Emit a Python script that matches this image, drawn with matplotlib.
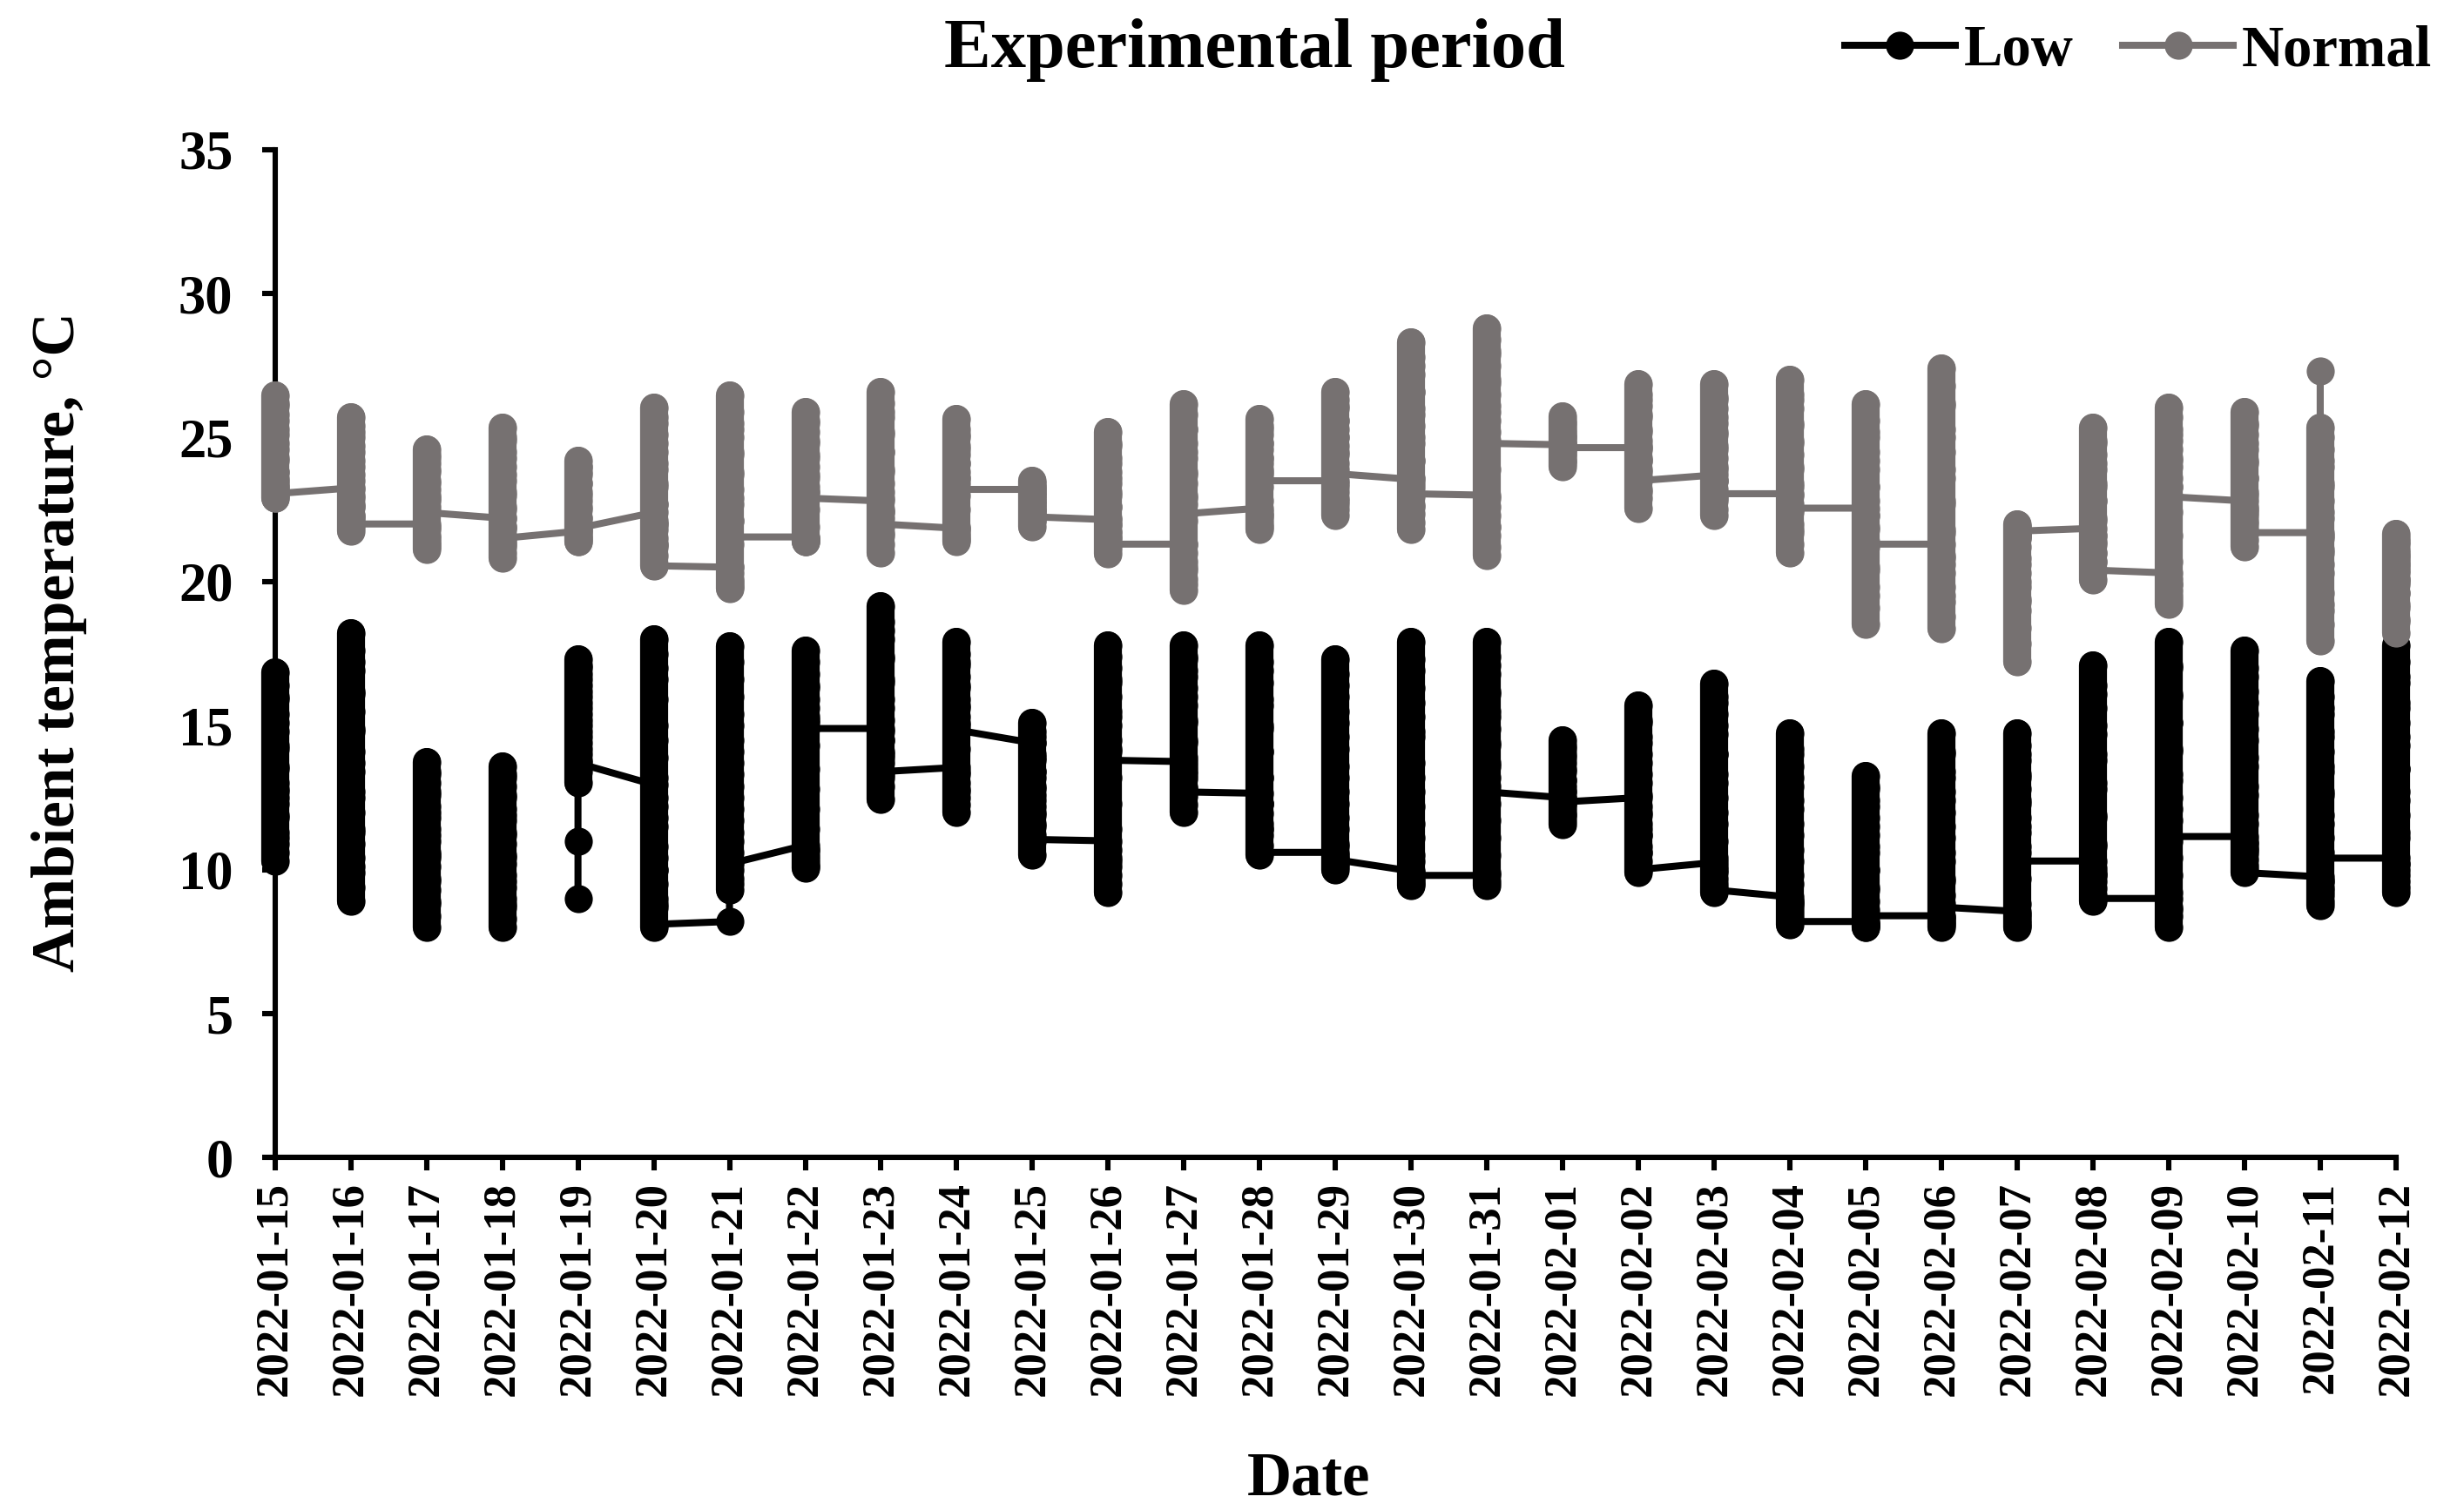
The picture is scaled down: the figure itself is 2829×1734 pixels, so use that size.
import numpy as np
import matplotlib.pyplot as plt

nan = np.nan

dates = ['2022-01-15', '2022-01-16', '2022-01-17', '2022-01-18', '2022-01-19',
         '2022-01-20', '2022-01-21', '2022-01-22', '2022-01-23', '2022-01-24',
         '2022-01-25', '2022-01-26', '2022-01-27', '2022-01-28', '2022-01-29',
         '2022-01-30', '2022-01-31', '2022-02-01', '2022-02-02', '2022-02-03',
         '2022-02-04', '2022-02-05', '2022-02-06', '2022-02-07', '2022-02-08',
         '2022-02-09', '2022-02-10', '2022-02-11', '2022-02-12']

# hourly ambient temperature readings (deg C), nan = missing reading
# Low temperature room
low_0115 = [12.8, 12.3, 11.8, 11.3, 10.9, 10.6, 10.3, 11.1, 11.9, 12.7, 13.5, 14.3, 15.1, 16.0, 16.85, 16.4, 15.9, 15.4, 14.8, 14.2, 13.6, 13.0, 12.5, nan]
low_0116 = [12.0, 11.4, 10.9, 10.4, 9.9, 9.4, 8.9, 10.1, 11.3, 12.5, 13.7, 14.9, 16.1, 17.2, 18.2, 17.6, 16.9, 16.2, 15.5, 14.8, 14.1, 13.4, 12.7, nan]
low_0117 = [10.5, 10.1, 9.7, 9.3, 8.9, 8.4, 8.0, 8.8, 9.6, 10.4, 11.2, 12.0, 12.7, 13.3, 13.75, 13.4, 13.0, 12.6, 12.2, 11.8, 11.4, 11.0, 10.6, nan]
low_0118 = [10.2, 9.8, 9.4, 9.0, 8.7, 8.3, 8.0, 8.8, 9.6, 10.4, 11.2, 11.9, 12.6, 13.2, 13.6, 13.3, 12.9, 12.5, 12.1, 11.7, 11.3, 10.9, 10.5, nan]
low_0119 = [9.0, 11.0, 13.0, 13.4, 13.8, 14.2, 14.6, 15.0, 15.4, 15.8, 16.2, 16.6, 17.0, 17.3, 17.1, 16.8, 16.4, 16.0, 15.6, 15.2, 14.8, 14.4, 14.0, 13.7]
low_0120 = [12.95, 12.2, 11.5, 10.8, 10.0, 9.0, 8.0, 8.8, 10.0, 11.8, 13.2, 15.0, 15.9, 17.0, 18.0, 17.5, 16.6, 14.5, 13.9, 12.5, 10.4, 9.5, 8.7, 8.1]
low_0121 = [8.2, 9.3, 9.5, 9.7, 10.0, 10.3, 10.6, 11.3, 12.1, 12.9, 13.7, 14.5, 15.4, 16.6, 17.75, 17.2, 16.0, 15.0, 14.1, 13.3, 12.5, 11.7, 11.0, 10.2]
low_0122 = [10.85, 10.7, 10.5, 10.35, 10.2, 10.1, 10.05, 10.7, 11.4, 12.1, 12.8, 13.5, 14.3, 15.2, 16.4, 17.6, 17.2, 16.8, 16.3, 15.9, 15.6, 15.3, 15.1, 14.9]
low_0123 = [14.9, 14.5, 14.1, 13.7, 13.3, 12.9, 12.45, 13.2, 14.0, 14.8, 15.6, 16.5, 17.4, 18.3, 19.15, 18.6, 18.0, 17.3, 16.6, 15.9, 15.2, 14.5, 13.9, 13.4]
low_0124 = [13.55, 13.3, 13.0, 12.8, 12.5, 12.25, 12.0, 12.7, 13.4, 14.2, 15.0, 15.7, 16.4, 17.2, 17.9, 17.5, 17.1, 16.7, 16.3, 15.9, 15.6, 15.3, 15.1, 14.85]
low_0125 = [14.4, 13.8, 13.2, 12.6, 12.0, 11.2, 10.5, 11.0, 11.6, 12.2, 12.8, 13.4, 14.0, 14.6, 15.1, 14.8, 14.4, 13.9, 13.4, 12.9, 12.4, 11.9, 11.5, 11.05]
low_0126 = [11.0, 10.7, 10.4, 10.1, 9.8, 9.5, 9.2, 10.3, 11.4, 12.3, 13.2, 14.2, 15.3, 16.6, 17.8, 17.4, 17.0, 16.5, 16.0, 15.5, 15.0, 14.5, 14.1, 13.8]
low_0127 = [13.75, 13.45, 13.15, 12.85, 12.55, 12.25, 12.0, 12.8, 13.6, 14.4, 15.2, 16.0, 16.7, 17.3, 17.8, 17.4, 16.9, 16.3, 15.7, 15.1, 14.5, 13.9, 13.3, 12.7]
low_0128 = [12.65, 12.3, 11.95, 11.6, 11.2, 10.85, 10.5, 11.4, 12.3, 13.2, 14.1, 15.0, 15.9, 16.9, 17.8, 17.2, 16.5, 15.7, 14.9, 14.1, 13.2, 12.3, 11.4, 10.6]
low_0129 = [10.6, 10.5, 10.4, 10.3, 10.2, 10.1, 10.0, 10.9, 11.8, 12.7, 13.6, 14.6, 15.5, 16.4, 17.3, 16.8, 16.0, 15.1, 14.2, 13.2, 12.3, 11.4, 10.8, 10.35]
low_0130 = [9.95, 9.9, 9.8, 9.7, 9.6, 9.5, 9.45, 10.5, 11.6, 12.7, 13.7, 14.8, 15.8, 16.9, 17.9, 17.3, 16.3, 15.3, 14.6, 13.2, 12.2, 11.1, 10.3, 9.8]
low_0131 = [9.8, 9.6, 9.45, 9.9, 10.5, 11.1, 11.7, 12.3, 12.9, 13.6, 14.4, 15.3, 16.2, 17.1, 17.9, 17.4, 16.8, 16.1, 15.5, 14.9, 14.3, 13.7, 13.2, 12.7]
low_0201 = [12.5, 12.35, 12.2, 12.05, 11.9, 11.7, 11.55, 11.9, 12.3, 12.7, 13.1, 13.5, 13.9, 14.2, 14.5, 14.3, 14.0, 13.7, 13.4, 13.1, 12.9, 12.7, 12.5, 12.35]
low_0202 = [12.5, 12.0, 11.6, 11.2, 10.8, 10.3, 9.9, 10.6, 11.4, 12.2, 13.0, 13.7, 14.4, 15.1, 15.7, 15.2, 14.6, 14.0, 13.3, 12.6, 11.9, 11.2, 10.6, 10.0]
low_0203 = [10.25, 10.1, 9.9, 9.7, 9.5, 9.35, 9.2, 10.0, 11.0, 12.0, 13.0, 14.0, 15.0, 15.8, 16.45, 16.0, 15.4, 14.7, 14.0, 13.3, 12.5, 11.6, 10.4, 9.3]
low_0204 = [9.05, 8.9, 8.75, 8.6, 8.45, 8.3, 8.1, 8.9, 9.8, 10.7, 11.6, 12.4, 13.2, 14.0, 14.75, 14.2, 13.6, 12.9, 12.1, 11.2, 10.3, 9.5, 8.8, 8.2]
low_0205 = [8.2, 8.15, 8.1, 8.1, 8.05, 8.0, 8.0, 8.6, 9.3, 10.0, 10.8, 11.5, 12.2, 12.8, 13.25, 12.9, 12.4, 11.8, 11.2, 10.6, 10.0, 9.4, 8.9, 8.4]
low_0206 = [8.4, 8.35, 8.3, 8.2, 8.15, 8.1, 8.0, 8.8, 9.7, 10.6, 11.5, 12.4, 13.2, 14.0, 14.75, 14.1, 13.4, 12.7, 12.0, 11.1, 10.3, 9.6, 9.1, 8.7]
low_0207 = [8.55, 8.45, 8.35, 8.25, 8.15, 8.05, 8.0, 8.8, 9.7, 10.6, 11.5, 12.4, 13.2, 14.0, 14.75, 14.3, 13.8, 13.3, 12.8, 12.3, 11.8, 11.3, 10.8, 10.3]
low_0208 = [10.3, 10.05, 9.8, 9.6, 9.35, 9.1, 8.9, 9.9, 10.9, 11.9, 13.0, 14.0, 15.0, 16.1, 17.1, 16.4, 15.6, 14.7, 13.8, 12.8, 11.8, 10.8, 9.8, 9.0]
low_0209 = [9.0, 8.7, 8.4, 8.0, 8.6, 9.2, 9.8, 10.4, 11.0, 11.7, 12.5, 13.3, 14.2, 15.1, 16.0, 17.0, 17.9, 17.1, 16.1, 15.1, 14.1, 13.1, 12.1, 11.15]
low_0210 = [11.15, 10.95, 10.75, 10.55, 10.35, 10.15, 10.0, 10.9, 11.9, 12.9, 13.9, 14.9, 15.8, 16.7, 17.6, 17.0, 16.2, 15.4, 14.5, 13.6, 12.6, 11.6, 10.7, 9.9]
low_0211 = [9.75, 9.6, 9.4, 9.25, 9.1, 8.9, 8.75, 9.6, 10.6, 11.6, 12.6, 13.6, 14.6, 15.6, 16.55, 16.0, 15.4, 14.8, 14.1, 13.4, 12.7, 11.9, 11.1, 10.4]
low_0212 = [10.4, 10.2, 10.0, 9.8, 9.6, 9.4, 9.2, 10.2, 11.3, 12.4, 13.5, 14.6, 15.6, 16.7, 17.8, 17.2, 16.5, 15.8, 15.1, 14.3, 13.5, 12.7, 11.9, 11.1]

# Normal temperature room
normal_0115 = [23.6, 23.4, 23.2, 23.1, 23.0, 22.9, 22.9, 23.3, 23.8, 24.3, 24.8, 25.3, 25.8, 26.2, 26.45, 26.1, 25.6, 25.1, 24.6, 24.2, 23.8, 23.5, 23.3, 23.05]
normal_0116 = [23.25, 22.9, 22.6, 22.3, 22.1, 21.9, 21.75, 22.2, 22.7, 23.2, 23.7, 24.2, 24.7, 25.2, 25.7, 25.4, 25.0, 24.5, 24.0, 23.5, 23.0, 22.6, 22.3, 22.0]
normal_0117 = [22.0, 21.8, 21.6, 21.4, 21.3, 21.2, 21.1, 21.5, 21.9, 22.4, 22.9, 23.4, 23.9, 24.3, 24.6, 24.4, 24.1, 23.8, 23.5, 23.2, 23.0, 22.8, 22.6, 22.4]
normal_0118 = [22.2, 21.9, 21.6, 21.4, 21.2, 21.0, 20.8, 21.3, 21.9, 22.5, 23.1, 23.7, 24.3, 24.9, 25.35, 25.0, 24.5, 24.0, 23.5, 23.0, 22.6, 22.2, 21.8, 21.5]
normal_0119 = [21.75, 21.7, 21.6, 21.5, 21.5, 21.4, 21.4, 21.8, 22.2, 22.6, 23.0, 23.4, 23.8, 24.0, 24.2, 24.0, 23.7, 23.4, 23.1, 22.8, 22.5, 22.2, 22.0, 21.85]
normal_0120 = [22.4, 22.1, 21.8, 21.5, 21.2, 20.9, 20.6, 21.3, 22.0, 22.7, 23.4, 24.1, 24.8, 25.5, 26.05, 25.7, 25.1, 24.5, 23.9, 23.3, 22.7, 22.0, 21.3, 20.55]
normal_0121 = [20.5, 20.3, 20.1, 20.0, 19.9, 19.8, 19.75, 20.5, 21.3, 22.1, 22.9, 23.7, 24.5, 25.3, 25.9, 26.45, 25.5, 25.0, 24.4, 23.8, 23.2, 22.7, 22.1, 21.55]
normal_0122 = [21.55, 21.5, 21.5, 21.45, 21.4, 21.4, 21.4, 21.9, 22.5, 23.1, 23.7, 24.3, 24.9, 25.5, 25.9, 25.6, 25.2, 24.8, 24.4, 24.0, 23.6, 23.3, 23.1, 22.9]
normal_0123 = [22.8, 22.5, 22.2, 21.9, 21.6, 21.3, 21.0, 21.7, 22.4, 23.1, 23.8, 24.5, 25.2, 25.9, 26.6, 26.2, 25.7, 25.1, 24.5, 23.9, 23.4, 22.9, 22.4, 22.0]
normal_0124 = [21.85, 21.8, 21.7, 21.6, 21.5, 21.45, 21.4, 21.9, 22.5, 23.0, 23.6, 24.1, 24.6, 25.1, 25.65, 25.3, 25.0, 24.7, 24.4, 24.1, 23.8, 23.6, 23.4, 23.2]
normal_0125 = [23.2, 23.0, 22.8, 22.6, 22.4, 22.1, 21.9, 22.1, 22.3, 22.5, 22.7, 22.9, 23.1, 23.3, 23.5, 23.4, 23.3, 23.1, 23.0, 22.8, 22.7, 22.5, 22.4, 22.25]
normal_0126 = [22.15, 21.95, 21.75, 21.55, 21.35, 21.15, 20.95, 21.5, 22.0, 22.6, 23.1, 23.6, 24.1, 24.7, 25.2, 24.8, 24.3, 23.8, 23.4, 23.0, 22.6, 22.2, 21.7, 21.3]
normal_0127 = [21.3, 21.0, 20.7, 20.4, 20.1, 19.9, 19.7, 20.5, 21.3, 22.1, 22.9, 23.7, 24.5, 25.3, 26.15, 25.8, 25.3, 24.8, 24.3, 23.8, 23.4, 23.0, 22.7, 22.35]
normal_0128 = [22.55, 22.4, 22.3, 22.15, 22.0, 21.9, 21.8, 22.3, 22.8, 23.3, 23.8, 24.3, 24.8, 25.3, 25.65, 25.4, 25.1, 24.8, 24.6, 24.3, 24.1, 23.9, 23.7, 23.5]
normal_0129 = [23.5, 23.3, 23.1, 22.9, 22.7, 22.5, 22.3, 22.8, 23.4, 23.9, 24.5, 25.0, 25.6, 26.1, 26.6, 26.3, 26.0, 25.6, 25.3, 25.0, 24.7, 24.4, 24.1, 23.75]
normal_0130 = [23.55, 23.25, 22.95, 22.65, 22.35, 22.05, 21.8, 22.6, 23.4, 24.2, 25.0, 25.8, 26.6, 27.5, 28.3, 27.8, 27.2, 26.6, 26.0, 25.4, 24.8, 24.2, 23.6, 23.05]
normal_0131 = [23.0, 22.6, 22.3, 21.9, 21.6, 21.2, 20.9, 21.9, 22.9, 23.9, 24.9, 25.9, 26.9, 27.9, 28.8, 28.4, 28.0, 27.5, 27.0, 26.5, 26.1, 25.6, 25.2, 24.8]
normal_0201 = [24.75, 24.6, 24.5, 24.35, 24.2, 24.1, 24.0, 24.2, 24.4, 24.6, 24.8, 25.0, 25.2, 25.5, 25.75, 25.6, 25.4, 25.3, 25.1, 25.0, 24.9, 24.8, 24.7, 24.65]
normal_0202 = [24.65, 24.3, 23.9, 23.6, 23.2, 22.9, 22.55, 23.1, 23.6, 24.2, 24.7, 25.2, 25.8, 26.3, 26.85, 26.5, 26.1, 25.7, 25.3, 24.9, 24.6, 24.2, 23.8, 23.5]
normal_0203 = [23.7, 23.5, 23.2, 23.0, 22.8, 22.5, 22.3, 22.9, 23.5, 24.0, 24.6, 25.2, 25.7, 26.3, 26.85, 26.4, 26.0, 25.5, 25.1, 24.7, 24.3, 23.9, 23.5, 23.05]
normal_0204 = [23.05, 22.7, 22.4, 22.0, 21.7, 21.3, 21.0, 21.8, 22.5, 23.3, 24.0, 24.8, 25.5, 26.3, 27.0, 26.5, 26.0, 25.4, 24.9, 24.4, 23.9, 23.4, 23.0, 22.55]
normal_0205 = [22.55, 21.9, 21.2, 20.5, 19.8, 19.1, 18.5, 19.5, 20.4, 21.4, 22.3, 23.3, 24.2, 25.2, 26.15, 25.6, 25.0, 24.5, 23.9, 23.3, 22.8, 22.3, 21.8, 21.3]
normal_0206 = [21.3, 20.8, 20.3, 19.8, 19.3, 18.8, 18.35, 19.5, 20.6, 21.7, 22.8, 23.9, 25.0, 26.2, 27.4, 26.8, 26.1, 25.3, 24.5, 23.6, 22.7, 21.8, 20.9, nan]
normal_0207 = [20.6, 20.0, 19.4, 19.0, 18.4, 17.85, 17.2, 19.3, 19.8, 20.3, 20.8, 21.2, 21.6, 21.9, 22.0, 21.9, 21.8, 21.7, 21.6, 21.5, 21.5, 21.6, 21.7, 21.75]
normal_0208 = [21.85, 21.6, 21.3, 21.0, 20.7, 20.4, 20.05, 20.7, 21.4, 22.1, 22.8, 23.4, 24.1, 24.8, 25.35, 24.9, 24.4, 23.9, 23.3, 22.8, 22.2, 21.6, 21.0, 20.4]
normal_0209 = [20.3, 20.1, 19.9, 19.7, 19.5, 19.35, 19.2, 19.9, 20.7, 21.6, 22.4, 23.3, 24.2, 25.1, 26.05, 25.7, 25.3, 24.9, 24.6, 24.3, 24.0, 23.6, 23.3, 22.95]
normal_0210 = [22.8, 22.5, 22.3, 22.0, 21.7, 21.45, 21.2, 21.8, 22.4, 23.0, 23.6, 24.2, 24.8, 25.4, 25.9, 25.5, 25.1, 24.6, 24.1, 23.6, 23.1, 22.6, 22.1, 21.7]
normal_0211 = [21.7, 21.0, 20.3, 19.6, 19.0, 18.5, 17.95, 19.2, 20.6, 21.5, 22.4, 23.3, 24.2, 25.35, 27.3, 25.0, 24.6, 24.0, 23.4, 22.8, 22.2, 21.6, 21.1, nan]
normal_0212 = [20.8, 20.4, 20.0, 19.6, 19.2, 18.7, 18.2, 18.6, 19.1, 19.6, 20.1, 20.6, 21.0, 21.4, 21.65, 21.5, 21.3, 21.1, 20.9, 20.7, 20.5, 20.3, 20.1, 19.9]

low_days = [low_0115, low_0116, low_0117, low_0118, low_0119, low_0120, low_0121,
            low_0122, low_0123, low_0124, low_0125, low_0126, low_0127, low_0128,
            low_0129, low_0130, low_0131, low_0201, low_0202, low_0203, low_0204,
            low_0205, low_0206, low_0207, low_0208, low_0209, low_0210, low_0211,
            low_0212]
normal_days = [normal_0115, normal_0116, normal_0117, normal_0118, normal_0119,
               normal_0120, normal_0121, normal_0122, normal_0123, normal_0124,
               normal_0125, normal_0126, normal_0127, normal_0128, normal_0129,
               normal_0130, normal_0131, normal_0201, normal_0202, normal_0203,
               normal_0204, normal_0205, normal_0206, normal_0207, normal_0208,
               normal_0209, normal_0210, normal_0211, normal_0212]

MS = 11.6      # marker diameter, pt
LW = 2.9       # connecting line width, pt
GAP = 1.0      # readings closer than this merge into one solid stack


def to_xy(days):
    # every reading of a day sits on that day's position (Excel date axis)
    xs = np.concatenate([np.full(len(d), i, dtype=float) for i, d in enumerate(days)])
    ys = np.concatenate([np.asarray(d, dtype=float) for d in days])
    return xs, ys


def stacks(days):
    # runs of overlapping markers in each day -> (x, bottom, top)
    xs, lo, hi = [], [], []
    for i, d in enumerate(days):
        v = np.sort(np.asarray(d, dtype=float))
        v = v[~np.isnan(v)]
        start = v[0]
        for a, b in zip(v[:-1], v[1:]):
            if b - a > GAP:
                xs.append(i); lo.append(start); hi.append(a)
                start = b
        xs.append(i); lo.append(start); hi.append(v[-1])
    return xs, lo, hi


def draw(ax, days, color, label, z):
    x, y = to_xy(days)
    ax.plot(x, y, color=color, lw=LW, marker='o', ms=MS, mew=0,
            label=label, clip_on=False, zorder=z)
    sx, slo, shi = stacks(days)
    vl = ax.vlines(sx, slo, shi, colors=color, linewidth=MS, zorder=z)
    vl.set_capstyle('round')
    vl.set_clip_on(False)


plt.rcParams['font.family'] = ['Liberation Serif', 'DejaVu Serif']
plt.rcParams['font.weight'] = 'bold'

fig = plt.figure(figsize=(14.145, 8.67), dpi=200)
ax = fig.add_axes([0.1116, 0.2333, 0.8608, 0.6677])

black = '#000000'
gray = '#767171'

draw(ax, low_days, black, 'Low', 3)
draw(ax, normal_days, gray, 'Normal', 4)

ax.set_xlim(0, len(dates) - 1)
ax.set_ylim(0, 35)
ax.set_yticks(np.arange(0, 36, 5))
ax.set_xticks(np.arange(len(dates)))
ax.set_xticklabels(dates, rotation=90, fontsize=19, fontweight='bold')
for lab in ax.get_yticklabels():
    lab.set_fontsize(22.5)
    lab.set_fontweight('bold')

for side in ['top', 'right']:
    ax.spines[side].set_visible(False)
for side in ['left', 'bottom']:
    ax.spines[side].set_linewidth(2.2)
ax.tick_params(axis='y', direction='out', length=5.4, width=2.2, pad=12)
ax.tick_params(axis='x', direction='out', length=5.4, width=2.2, pad=4.5)

fig.text(0.509, 0.967, 'Experimental period', ha='center', va='center',
         fontsize=29, fontweight='bold')
fig.text(0.024, 0.575, 'Ambient temperature, °C', ha='center', va='center',
         rotation=90, fontsize=25, fontweight='bold')
fig.text(0.531, 0.020, 'Date', ha='center', va='center',
         fontsize=25.5, fontweight='bold')

fig.legend(loc='center right', bbox_to_anchor=(0.987, 0.966), ncol=2,
           frameon=False, fontsize=24, handlelength=1.9, handletextpad=0.15,
           columnspacing=0.85, borderpad=0, borderaxespad=0, numpoints=1)

fig.savefig('out.png', dpi=200)
